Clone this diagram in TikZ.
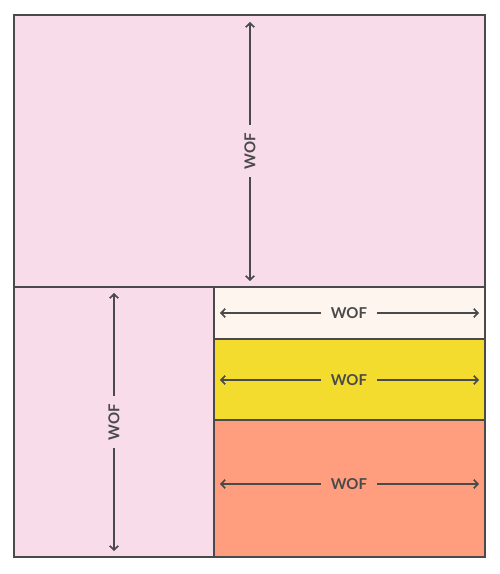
\documentclass[tikz,border=0pt]{standalone}
\usepackage{fontspec}
\setmainfont{Lato}
\usetikzlibrary{arrows.meta}
\definecolor{pinkbg}{HTML}{F9DCEA}
\definecolor{creambg}{HTML}{FDF5EE}
\definecolor{yellowbg}{HTML}{F4DC2E}
\definecolor{salmonbg}{HTML}{FF9E7E}
\definecolor{ink}{HTML}{4A4A4A}
\tikzset{
  region/.style={draw=ink, line width=1.8pt},
  dim/.style={draw=ink, line width=1.7pt, -{Straight Barb[length=4pt,width=8.5pt,line width=1.7pt]}},
  lbl/.style={font=\bfseries\fontsize{15}{15}\selectfont, text=ink, inner xsep=8pt, inner ysep=0pt}
}
\begin{document}
\begin{tikzpicture}[x=1pt,y=-1pt]
\useasboundingbox (0,0) rectangle (500,574);
\fill[white] (0,0) rectangle (500,574);
% regions
\path[region, fill=pinkbg] (14,15) rectangle (485,287);
\path[region, fill=pinkbg] (14,287) rectangle (214,557);
\path[region, fill=creambg] (214,287) rectangle (485,339);
\path[region, fill=yellowbg] (214,339) rectangle (485,420);
\path[region, fill=salmonbg] (214,420) rectangle (485,557);
% top vertical dimension
\node[lbl, rotate=90] (t1) at (250,151) {WOF};
\coordinate (t1a) at (250,22);
\coordinate (t1b) at (250,281);
\draw[dim] (t1) -- (t1a);
\draw[dim] (t1) -- (t1b);
% left vertical dimension
\node[lbl, rotate=90] (t2) at (114,422) {WOF};
\coordinate (t2a) at (114,293);
\coordinate (t2b) at (114,551);
\draw[dim] (t2) -- (t2a);
\draw[dim] (t2) -- (t2b);
% horizontal dimensions
\node[lbl, inner xsep=10pt] (h1) at (349,313) {WOF};
\coordinate (h1a) at (220,313);
\coordinate (h1b) at (479,313);
\draw[dim] (h1) -- (h1a);
\draw[dim] (h1) -- (h1b);
\node[lbl, inner xsep=10pt] (h2) at (349,380) {WOF};
\coordinate (h2a) at (220,380);
\coordinate (h2b) at (479,380);
\draw[dim] (h2) -- (h2a);
\draw[dim] (h2) -- (h2b);
\node[lbl, inner xsep=10pt] (h3) at (349,484) {WOF};
\coordinate (h3a) at (220,484);
\coordinate (h3b) at (479,484);
\draw[dim] (h3) -- (h3a);
\draw[dim] (h3) -- (h3b);
\end{tikzpicture}
\end{document}
